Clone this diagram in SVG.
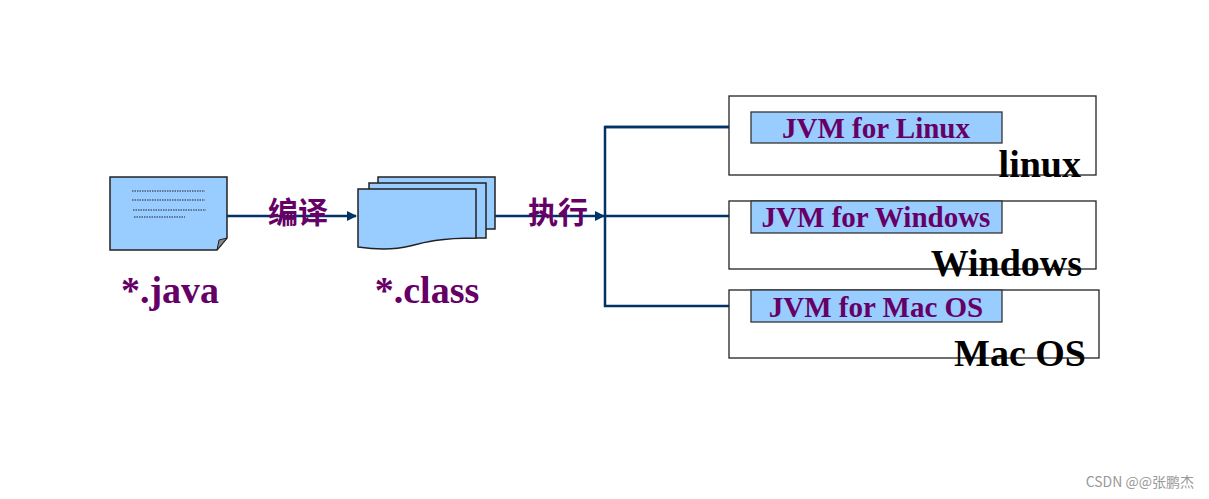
<svg xmlns="http://www.w3.org/2000/svg" width="1209" height="499" viewBox="0 0 1209 499">
<style>
.doc{fill:#99ccff;stroke:#222;stroke-width:1.5}
.os{fill:#fff;stroke:#222;stroke-width:1.3}
.jvm{fill:#99ccff;stroke:#333;stroke-width:1.3}
.ln{stroke:#003366;stroke-width:2.5;fill:none}
.dot{stroke:#223;stroke-width:1;stroke-dasharray:1.5 1}
.pt{font-family:"Liberation Serif",serif;font-weight:bold;fill:#660066}
.bt{font-family:"Liberation Serif",serif;font-weight:bold;fill:#000;font-size:38px}
.cn{font-family:"Noto Sans CJK SC",sans-serif;font-weight:bold;fill:#660066;font-size:30px}
</style>
<defs><marker id="ah" viewBox="0 0 10 10" refX="9" refY="5" markerWidth="4" markerHeight="4" orient="auto"><path d="M0,0L10,5L0,10z" fill="#003366"/></marker></defs>
<rect width="1209" height="499" fill="#fff"/>
<g id="java">
<path class="doc" d="M110,177H227V238L217,250H110Z"/>
<path d="M217,250L219,240L227,238Z" fill="#888" stroke="#222"/>
<line class="dot" x1="132" y1="191" x2="205" y2="191"/>
<line class="dot" x1="132" y1="200" x2="205" y2="200"/>
<line class="dot" x1="133" y1="210" x2="206" y2="210"/>
<line class="dot" x1="134" y1="217" x2="185" y2="217"/>
<text class="pt" x="170" y="303" font-size="38" text-anchor="middle">*.java</text>
</g>
<g id="class">
<rect class="doc" x="378" y="177" width="117" height="52"/>
<rect class="doc" x="369" y="183" width="117" height="55"/>
<path class="doc" d="M358,189H476V238C440,238 425,242 410,246C390,251 372,249 358,247Z"/>
<text class="pt" x="427" y="303" font-size="38" text-anchor="middle">*.class</text>
</g>
<g id="connectors">
<line class="ln" x1="227" y1="216" x2="356" y2="216" marker-end="url(#ah)"/>
<line class="ln" x1="495" y1="216" x2="604" y2="216" marker-end="url(#ah)"/>
<path class="ln" d="M751,127H605V306H751" marker-end="url(#ah)"/>
<line class="ln" x1="605" y1="127" x2="750" y2="127" marker-end="url(#ah)"/>
<line class="ln" x1="605" y1="216" x2="750" y2="216" marker-end="url(#ah)"/>
<text class="cn" x="298" y="223" text-anchor="middle">编译</text>
<text class="cn" x="558" y="223" text-anchor="middle">执行</text>
</g>
<g id="linux">
<rect class="os" x="729" y="96" width="367" height="79"/>
<rect class="jvm" x="751" y="112" width="251" height="31"/>
<text class="pt" x="876" y="138" font-size="29" text-anchor="middle">JVM for Linux</text>
<text class="bt" x="1081" y="177" text-anchor="end">linux</text>
</g>
<g id="windows">
<rect class="os" x="729" y="201" width="367" height="68"/>
<rect class="jvm" x="751" y="201" width="251" height="32"/>
<text class="pt" x="876" y="227" font-size="29" text-anchor="middle">JVM for Windows</text>
<text class="bt" x="1082" y="276" text-anchor="end">Windows</text>
</g>
<g id="macos">
<rect class="os" x="729" y="290" width="370" height="68"/>
<rect class="jvm" x="751" y="290" width="251" height="32"/>
<text class="pt" x="876" y="317" font-size="29" text-anchor="middle">JVM for Mac OS</text>
<text class="bt" x="1086" y="366" text-anchor="end">Mac OS</text>
</g>
<text x="1194" y="487" font-family="Noto Sans CJK SC,sans-serif" font-size="14" fill="#999" text-anchor="end">CSDN @@张鹏杰</text>
</svg>
